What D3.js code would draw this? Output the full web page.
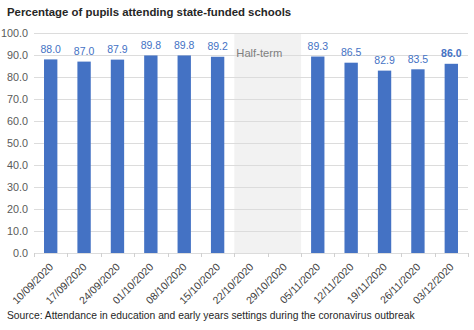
<!DOCTYPE html>
<html>
<head>
<meta charset="utf-8">
<script src="https://cdn.jsdelivr.net/npm/d3@7"></script>
<style>
  body { margin: 0; background: #fff; font-family: "Liberation Sans", Arial, sans-serif; }
</style>
</head>
<body>
<svg id="chart" width="474" height="330"></svg>
<script>
// chart data
var dates = ["10/09/2020", "17/09/2020", "24/09/2020", "01/10/2020", "08/10/2020", "15/10/2020",
             "22/10/2020", "29/10/2020", "05/11/2020", "12/11/2020", "19/11/2020", "26/11/2020", "03/12/2020"];
var attendance = [88.0, 87.0, 87.9, 89.8, 89.8, 89.2, null, null, 89.3, 86.5, 82.9, 83.5, 86.0];
var halfTerm = ["22/10/2020", "29/10/2020"];
var yTicks = [0, 10, 20, 30, 40, 50, 60, 70, 80, 90, 100];

var svg = d3.select("#chart");
var plotLeft = 34, plotRight = 468, plotTop = 33, plotBottom = 253;

var x = d3.scaleBand().domain(dates).range([plotLeft, plotRight]).paddingInner(0.6).paddingOuter(0.3);
var y = d3.scaleLinear().domain([0, 100]).range([plotBottom, plotTop]);

// half-term shading
var step = x.step();
var gap = (step - x.bandwidth()) / 2;
var hx0 = x(halfTerm[0]) - gap;
var hx1 = x(halfTerm[1]) + x.bandwidth() + gap;
svg.append("rect")
    .attr("x", hx0).attr("y", y(100))
    .attr("width", hx1 - hx0).attr("height", y(0) - y(100))
    .attr("fill", "#f2f2f2");

// gridlines
svg.append("g").selectAll("line").data(yTicks).enter().append("line")
    .attr("x1", plotLeft).attr("x2", plotRight)
    .attr("y1", function(d) { return Math.round(y(d)) + 0.5; })
    .attr("y2", function(d) { return Math.round(y(d)) + 0.5; })
    .attr("stroke", "#dcdcdc").attr("stroke-width", 1);

// y axis labels
svg.append("g").selectAll("text").data(yTicks).enter().append("text")
    .attr("x", 28).attr("y", function(d) { return y(d) + 4; })
    .attr("text-anchor", "end")
    .attr("font-size", "10.8px").attr("fill", "#595959")
    .text(function(d) { return d.toFixed(1); });

// x tick marks between categories
var bounds = d3.range(dates.length + 1).map(function(i) { return plotLeft + i * step; });
svg.append("g").selectAll("line").data(bounds).enter().append("line")
    .attr("x1", function(d) { return Math.round(d) + 0.5; }).attr("x2", function(d) { return Math.round(d) + 0.5; })
    .attr("y1", plotBottom).attr("y2", plotBottom + 4)
    .attr("stroke", "#d0d0d0");

// bars
var data = dates.map(function(d, i) { return { date: d, value: attendance[i] }; })
    .filter(function(d) { return d.value != null; });

svg.append("g").selectAll("rect").data(data).enter().append("rect")
    .attr("x", function(d) { return x(d.date); })
    .attr("width", x.bandwidth())
    .attr("y", function(d) { return y(d.value); })
    .attr("height", function(d) { return y(0) - y(d.value); })
    .attr("fill", "#4472c4");

// value labels
svg.append("g").selectAll("text").data(data).enter().append("text")
    .attr("x", function(d) { return x(d.date) + x.bandwidth() / 2; })
    .attr("y", function(d) { return y(d.value) - 6.5; })
    .attr("text-anchor", "middle")
    .attr("font-size", "10.5px")
    .attr("font-weight", function(d, i) { return i == data.length - 1 ? "bold" : "normal"; })
    .attr("fill", "#4472c4")
    .text(function(d) { return d.value.toFixed(1); });

// half-term label
svg.append("text")
    .attr("x", hx0 + 2).attr("y", 57)
    .attr("font-size", "11.2px").attr("fill", "#7f7f7f")
    .text("Half-term");

// x axis labels
svg.append("g").selectAll("text").data(dates).enter().append("text")
    .attr("transform", function(d) {
        return "translate(" + (x(d) + x.bandwidth() / 2 - 2) + "," + (plotBottom + 9.5) + ") rotate(-45)";
    })
    .attr("text-anchor", "end")
    .attr("dy", "0.7em")
    .attr("font-size", "10.5px").attr("fill", "#404040")
    .text(function(d) { return d; });

// title and source
svg.append("text")
    .attr("x", 7).attr("y", 16)
    .attr("font-size", "11.4px").attr("font-weight", "bold").attr("fill", "#262626")
    .text("Percentage of pupils attending state-funded schools");

svg.append("text")
    .attr("x", 7).attr("y", 319)
    .attr("font-size", "10.3px").attr("fill", "#262626")
    .text("Source: Attendance in education and early years settings during the coronavirus outbreak");
</script>
</body>
</html>
